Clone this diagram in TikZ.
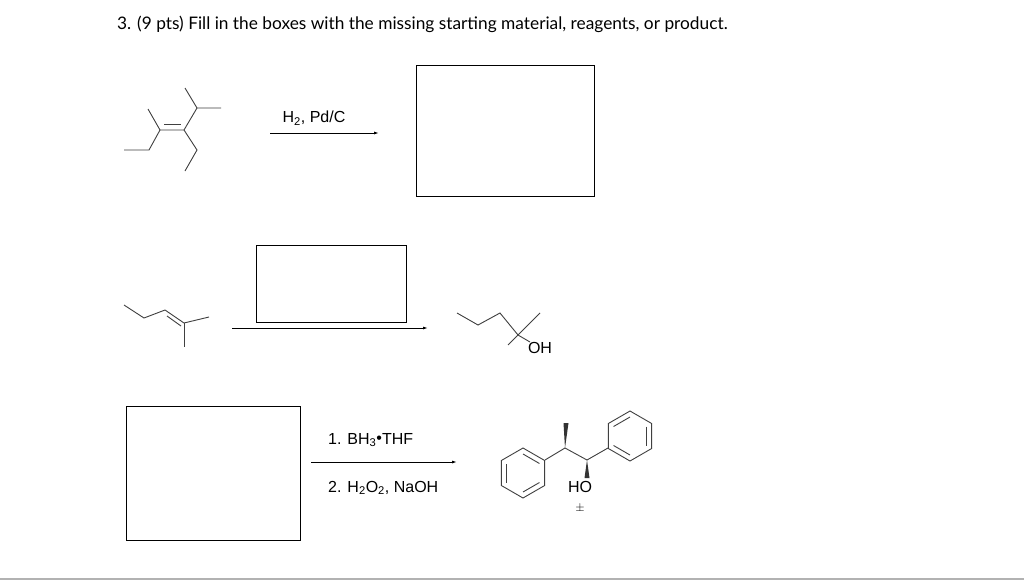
\documentclass[tikz,border=0pt]{standalone}
\usepackage{fontspec}
\setmainfont{Liberation Sans}
\newfontfamily\titlefont{Lato}
\usetikzlibrary{arrows.meta}
\begin{document}
\begin{tikzpicture}[x=1pt,y=-1pt,
  bond/.style={line width=0.9pt,color=black!75},
  box/.style={draw,line width=0.9pt},
  rxn/.style={line width=0.9pt,-{Latex[length=5pt,width=3pt]}},
  lbl/.style={font=\fontsize{16}{18}\selectfont,inner sep=0pt}]
\useasboundingbox (0,0) rectangle (1024,581);
\fill[white] (0,0) rectangle (1024,581);
\draw[gray!60,line width=2pt] (0,579) -- (1024,579);
\node[anchor=west,inner sep=0pt,font=\titlefont\fontsize{17.3}{19}\selectfont] (title) at (117,24) {3. (9 pts) Fill in the boxes with the missing starting material, reagents, or product.};
% molecule 1
\draw[bond] (148,109) -- (160,130) -- (149,150) -- (124,150);
\draw[bond] (160,130) -- (184,130) -- (197,108) -- (221,108);
\draw[bond] (197,108) -- (185,88);
\draw[bond] (184,130) -- (197,150) -- (185,171);
\draw[bond] (164,124) -- (181,124);
% boxes
\node[box,minimum width=178,minimum height=131,anchor=north west] (b1) at (416,65) {};
\node[box,minimum width=150,minimum height=77,anchor=north west] (b2) at (256,245) {};
\node[box,minimum width=174,minimum height=134,anchor=north west] (b3) at (126,406) {};
% arrows
\coordinate (a1s) at (270,133); \coordinate (a1e) at (379,133);
\draw[rxn] (a1s) -- (a1e);
\node[lbl] (t1) at (314,118) {H\textsubscript{2}, Pd/C};
\coordinate (a2s) at (232,328); \coordinate (a2e) at (428,328);
\draw[rxn] (a2s) -- (a2e);
\coordinate (a3s) at (311,462); \coordinate (a3e) at (457,462);
\draw[rxn] (a3s) -- (a3e);
\node[lbl,anchor=west] (t2) at (328,440) {1. BH\textsubscript{3}\raisebox{0.1ex}{\textbullet}THF};
\node[lbl,anchor=west] (t3) at (328,488) {2. H\textsubscript{2}O\textsubscript{2}, NaOH};
% molecule 2
\draw[bond] (124,305) -- (144,318) -- (165,310) -- (184,323) -- (209,317);
\draw[bond] (184,323) -- (184,347);
\draw[bond] (167,316) -- (181,326);
% molecule 3
\draw[bond] (457,313) -- (478,325) -- (500,313) -- (518,335) -- (540,313);
\draw[bond] (518,335) -- (508,345);
\draw[bond] (518,335) -- (530,342);
\node[lbl] (oh) at (540,348) {OH};
% molecule 4
\draw[bond] (523,473) ++(30:25) -- ++(150:25) -- ++(210:25) -- ++(270:25) -- ++(330:25) -- ++(30:25) -- cycle;
\foreach \a in {30,150,270}{\draw[bond] (523,473) ++(\a:19) -- ++(\a+120:19);}
\draw[bond] (630,436) ++(30:25) -- ++(150:25) -- ++(210:25) -- ++(270:25) -- ++(330:25) -- ++(30:25) -- cycle;
\foreach \a in {-30,90,210}{\draw[bond] (630,436) ++(\a:19) -- ++(\a+120:19);}
\draw[bond] (545,460) -- (565,448) -- (587,460) -- (608,448);
\fill[black!80] (565,448) -- (563.5,423) -- (568.5,423) -- cycle;
\fill[black!80] (587,460) -- (584.5,478) -- (589.5,478) -- cycle;
\node[lbl] (ho) at (580,487) {HO};
\node[lbl,font=\fontsize{13}{15}\selectfont] (pm) at (580,508) {$\pm$};
\end{tikzpicture}
\end{document}
